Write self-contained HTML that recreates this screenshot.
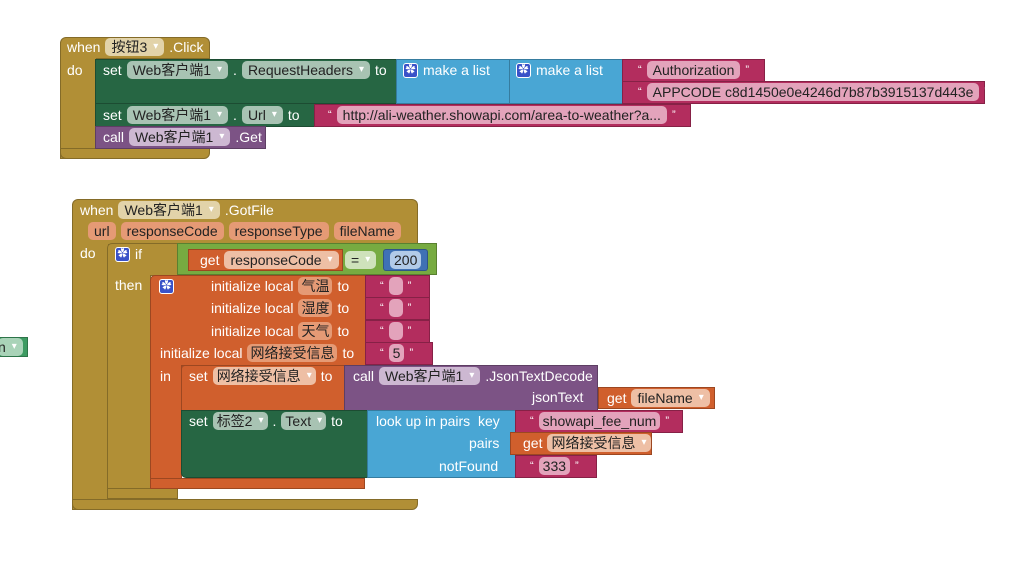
<!DOCTYPE html>
<html><head><meta charset="utf-8">
<style>
html,body{margin:0;padding:0;background:#fff;width:1035px;height:562px;overflow:hidden;position:relative;
font-family:"Liberation Sans","Noto Sans CJK SC",sans-serif;font-size:14px;color:#fff}
.b{position:absolute;box-sizing:border-box;border:1px solid rgba(0,0,0,0.25)}
.t{position:absolute;white-space:nowrap;line-height:18px;height:18px;display:flex;align-items:center;gap:5px}
.f{display:inline-block;border-radius:5px;padding:0 6px;line-height:18px;height:18px;color:#222;background:rgba(255,255,255,0.55)}
.dd::after{content:"▾";font-size:10px;color:#fff;margin-left:6px;vertical-align:top}
.g{background:#b18f36}.gr{background:#266643}.bl{background:#49a6d4}.pk{background:#b32d5e}
.pu{background:#7c5385}.or{background:#d05f2d}.lg{background:#77ab41}.mb{background:#3f71b5}
.gear{display:inline-block;width:15px;height:15px;border-radius:3px;background:#3a52c8;border:1px solid #fff;box-sizing:border-box;color:#fff;font-size:10px;line-height:13px;text-align:center}
.q{font-size:11px}
</style></head><body>

<!-- Block 1 -->
<div class="b g" style="left:60px;top:37px;width:150px;height:22px;border-radius:6px 6px 0 0"></div>
<div class="b g" style="left:60px;top:58px;width:36px;height:101px;border-right:none;border-top:none"></div>
<div class="b g" style="left:60px;top:148px;width:150px;height:11px;border-radius:0 0 6px 6px"></div>
<div class="t" style="left:67px;top:38px">when <span class="f dd" style="background:#e2d3a9">按钮3</span>.Click</div>
<div class="t" style="left:67px;top:61px">do</div>

<div class="b gr" style="left:95px;top:59px;width:305px;height:45px"></div>
<div class="t" style="left:103px;top:61px">set <span class="f dd" style="background:#a8c3b3">Web客户端1</span>. <span class="f dd" style="background:#a8c3b3">RequestHeaders</span> to</div>
<div class="b bl" style="left:396px;top:59px;width:114px;height:45px"></div>
<div class="t" style="left:403px;top:61px"><span class="gear">✿</span> make a list</div>
<div class="b bl" style="left:509px;top:59px;width:114px;height:45px"></div>
<div class="t" style="left:516px;top:61px"><span class="gear">✿</span> make a list</div>
<div class="b pk" style="left:622px;top:59px;width:143px;height:23px"></div>
<div class="t" style="left:638px;top:61px"><span class="q">“</span><span class="f" style="background:#e3a3bb">Authorization</span><span class="q">”</span></div>
<div class="b pk" style="left:622px;top:81px;width:363px;height:23px"></div>
<div class="t" style="left:638px;top:83px"><span class="q">“</span><span class="f" style="background:#e3a3bb">APPCODE c8d1450e0e4246d7b87b3915137d443e</span><span class="q">”</span></div>

<div class="b gr" style="left:95px;top:103px;width:222px;height:24px"></div>
<div class="t" style="left:103px;top:106px">set <span class="f dd" style="background:#a8c3b3">Web客户端1</span>. <span class="f dd" style="background:#a8c3b3">Url</span> to</div>
<div class="b pk" style="left:314px;top:104px;width:377px;height:23px"></div>
<div class="t" style="left:328px;top:106px"><span class="q">“</span><span class="f" style="background:#e3a3bb">http://ali-weather.showapi.com/area-to-weather?a...</span><span class="q">”</span></div>

<div class="b pu" style="left:95px;top:126px;width:171px;height:23px"></div>
<div class="t" style="left:103px;top:128px">call <span class="f dd" style="background:#cdb8d2">Web客户端1</span>.Get</div>

<!-- partial left block -->
<div class="b" style="left:-4px;top:337px;width:32px;height:20px;background:#3d9b62"></div>
<div class="t" style="left:-2px;top:338px"><span class="f dd" style="background:#a9d3b8;padding-left:0">n</span></div>

<!-- Block 2 -->
<div class="b g" style="left:72px;top:199px;width:346px;height:46px;border-radius:6px 6px 0 0"></div>
<div class="b g" style="left:72px;top:244px;width:36px;height:266px;border-top:none;border-right:none"></div>
<div class="b g" style="left:72px;top:499px;width:346px;height:11px;border-radius:0 0 6px 6px"></div>
<div class="t" style="left:80px;top:201px">when <span class="f dd" style="background:#e2d3a9">Web客户端1</span>.GotFile</div>
<div class="t" style="left:88px;top:222px"><span class="f" style="background:#e59a75">url</span> <span class="f" style="background:#e59a75">responseCode</span> <span class="f" style="background:#e59a75">responseType</span> <span class="f" style="background:#e59a75">fileName</span></div>
<div class="t" style="left:80px;top:244px">do</div>

<!-- if -->
<div class="b g" style="left:107px;top:243px;width:72px;height:33px;border-radius:5px 0 0 0"></div>
<div class="b g" style="left:107px;top:275px;width:44px;height:224px;border-top:none"></div>
<div class="b g" style="left:107px;top:488px;width:71px;height:11px"></div>
<div class="t" style="left:115px;top:245px"><span class="gear">✿</span> if</div>
<div class="t" style="left:115px;top:276px">then</div>

<div class="b lg" style="left:177px;top:243px;width:260px;height:32px"></div>
<div class="b or" style="left:188px;top:249px;width:155px;height:22px"></div>
<div class="t" style="left:200px;top:251px">get <span class="f dd" style="background:#eebfa5">responseCode</span></div>
<div class="t" style="left:345px;top:251px"><span class="f dd" style="background:#cfe2bb">=</span></div>
<div class="b mb" style="left:383px;top:249px;width:45px;height:22px;border-radius:3px"></div>
<div class="t" style="left:390px;top:251px"><span class="f" style="background:#b2cbe8;padding:0 4px">200</span></div>

<!-- local init -->
<div class="b or" style="left:150px;top:275px;width:216px;height:91px;border-radius:5px 0 0 0"></div>
<div class="b or" style="left:150px;top:365px;width:32px;height:124px;border-top:none"></div>
<div class="b or" style="left:150px;top:478px;width:215px;height:11px"></div>
<div class="t" style="left:159px;top:277px"><span class="gear">✿</span></div>
<div class="t" style="left:211px;top:277px">initialize local <span class="f" style="background:#e59a75;padding:0 3px">气温</span> to</div>
<div class="t" style="left:211px;top:299px">initialize local <span class="f" style="background:#e59a75;padding:0 3px">湿度</span> to</div>
<div class="t" style="left:211px;top:322px">initialize local <span class="f" style="background:#e59a75;padding:0 3px">天气</span> to</div>
<div class="t" style="left:160px;top:344px">initialize local <span class="f" style="background:#e59a75;padding:0 3px">网络接受信息</span> to</div>
<div class="t" style="left:160px;top:367px">in</div>
<div class="b pk" style="left:365px;top:275px;width:65px;height:23px"></div>
<div class="b pk" style="left:365px;top:297px;width:65px;height:23px"></div>
<div class="b pk" style="left:365px;top:320px;width:65px;height:23px"></div>
<div class="b pk" style="left:365px;top:342px;width:68px;height:23px"></div>
<div class="t" style="left:380px;top:277px"><span class="q">“</span><span class="f" style="background:#e3a3bb;width:2px"></span><span class="q">”</span></div>
<div class="t" style="left:380px;top:299px"><span class="q">“</span><span class="f" style="background:#e3a3bb;width:2px"></span><span class="q">”</span></div>
<div class="t" style="left:380px;top:322px"><span class="q">“</span><span class="f" style="background:#e3a3bb;width:2px"></span><span class="q">”</span></div>
<div class="t" style="left:380px;top:344px"><span class="q">“</span><span class="f" style="background:#e3a3bb;padding:0 4px">5</span><span class="q">”</span></div>

<div class="b or" style="left:181px;top:365px;width:165px;height:46px;border-radius:4px 0 0 0"></div>
<div class="t" style="left:189px;top:367px">set <span class="f dd" style="background:#eebfa5;padding:0 4px">网络接受信息</span> to</div>
<div class="b pu" style="left:344px;top:365px;width:254px;height:46px"></div>
<div class="t" style="left:353px;top:367px">call <span class="f dd" style="background:#cdb8d2">Web客户端1</span>.JsonTextDecode</div>
<div class="t" style="left:532px;top:388px">jsonText</div>
<div class="b or" style="left:598px;top:387px;width:117px;height:22px"></div>
<div class="t" style="left:607px;top:389px">get <span class="f dd" style="background:#eebfa5">fileName</span></div>

<div class="b gr" style="left:181px;top:410px;width:188px;height:68px;border-radius:0 0 0 5px"></div>
<div class="t" style="left:189px;top:412px">set <span class="f dd" style="background:#a8c3b3;padding:0 4px">标签2</span>. <span class="f dd" style="background:#a8c3b3;padding:0 4px">Text</span> to</div>
<div class="b bl" style="left:367px;top:410px;width:149px;height:68px"></div>
<div class="t" style="left:376px;top:412px">look up in pairs &nbsp;key</div>
<div class="t" style="left:469px;top:434px">pairs</div>
<div class="t" style="left:439px;top:457px">notFound</div>
<div class="b pk" style="left:515px;top:410px;width:168px;height:23px"></div>
<div class="t" style="left:530px;top:412px"><span class="q">“</span><span class="f" style="background:#e3a3bb;padding:0 4px">showapi_fee_num</span><span class="q">”</span></div>
<div class="b or" style="left:510px;top:432px;width:142px;height:23px"></div>
<div class="t" style="left:523px;top:434px">get <span class="f dd" style="background:#eebfa5;padding:0 4px">网络接受信息</span></div>
<div class="b pk" style="left:515px;top:455px;width:82px;height:23px"></div>
<div class="t" style="left:530px;top:457px"><span class="q">“</span><span class="f" style="background:#e3a3bb;padding:0 4px">333</span><span class="q">”</span></div>

</body></html>
